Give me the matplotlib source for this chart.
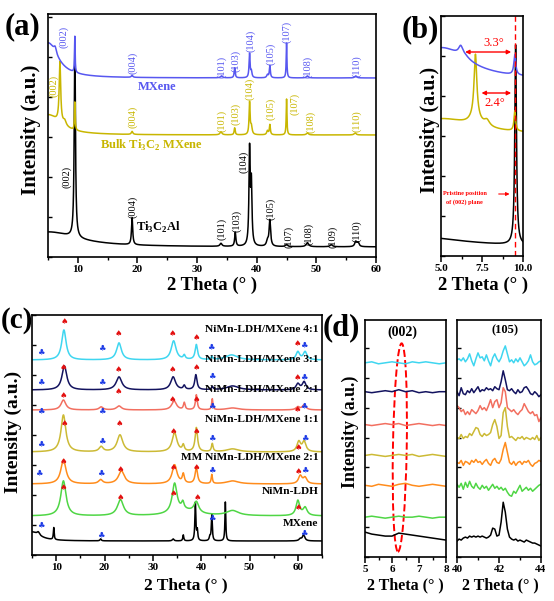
import numpy as np
import matplotlib
matplotlib.use('Agg')
import matplotlib.pyplot as plt
from matplotlib.patches import Ellipse
from matplotlib.ticker import MultipleLocator

plt.rcParams['font.family'] = ['Liberation Serif', 'DejaVu Sans']
plt.rcParams['font.weight'] = 'bold'
plt.rcParams['mathtext.fontset'] = 'custom'
plt.rcParams['mathtext.rm'] = 'Liberation Serif:bold'
plt.rcParams['mathtext.bf'] = 'Liberation Serif:bold'
plt.rcParams['axes.linewidth'] = 1.2

# ---------------- data: peaks as (2theta, height, half width), heights in a.u.
# (a) wide scan
a_mx_base = 179
a_mx_peaks = [(5, 35, 2), (6.2, 6, 0.25), (9.5, 36, 0.06), (19.1, 2, 0.15), (34.1, 2, 0.2),
              (36.3, 10, 0.1), (38.8, 24, 0.1), (39.1, 6, 0.12), (41.8, 3, 0.15),
              (42.2, 12, 0.1), (45.0, 35, 0.07), (48.5, 2, 0.2), (56.6, 2, 0.2)]
a_bulk_base = 122
a_bulk_peaks = [(5, 20, 2.5), (7.0, 61, 0.15), (7.8, 5, 0.3), (9.5, 28, 0.07), (19.1, 3, 0.15),
                (34.0, 3, 0.2), (36.3, 7, 0.1), (38.8, 32, 0.1), (39.1, 8, 0.15),
                (41.8, 4, 0.15), (42.2, 10, 0.1), (45.0, 36, 0.07), (48.5, 2, 0.2), (56.5, 2, 0.2)]
a_max_base = 10
a_max_peaks = [(5, 15, 6), (9.5, 198, 0.12), (19.1, 27, 0.12), (34.0, 3, 0.2), (36.4, 14, 0.12),
               (38.8, 95, 0.12), (39.1, 60, 0.12), (41.8, 5, 0.2), (42.2, 26, 0.15),
               (45.0, 2, 0.2), (48.5, 4, 0.25), (52.5, 2, 0.25), (56.6, 5, 0.2), (57.0, 4, 0.2)]

# hkl labels (x, y of label foot, text)
a_mx_hkl = [(7.7, 209, '(002)'), (19.2, 183, '(004)'), (34.2, 179, '(101)'), (36.4, 185, '(103)'),
            (39.0, 205, '(104)'), (42.4, 192, '(105)'), (45.1, 214, '(107)'), (48.5, 179, '(108)'),
            (56.7, 180, '(110)')]
a_bulk_hkl = [(6.0, 160, '(002)'), (19.2, 129, '(004)'), (34.2, 125, '(101)'), (36.5, 132, '(103)'),
              (38.9, 157, '(104)'), (42.4, 137, '(105)'), (46.4, 142, '(107)'), (49.0, 124, '(108)'),
              (56.7, 125, '(110)')]
a_max_hkl = [(8.2, 69, '(002)'), (19.2, 39, '(004)'), (34.2, 17, '(101)'), (36.6, 25, '(103)'),
             (37.8, 84, '(104)'), (42.4, 37, '(105)'), (45.3, 9, '(107)'), (48.7, 12, '(108)'),
             (52.8, 9, '(109)'), (56.7, 15, '(110)')]

# (b) low angle zoom
b_mx_base = 176
b_mx_peaks = [(5, 32, 2), (6.2, 8, 0.15), (6.4, 4, 0.4), (9.5, 20, 0.07)]
b_bulk_base = 121
b_bulk_peaks = [(5, 16, 2.5), (7.1, 63, 0.1), (7.1, 8, 0.4), (7.8, 6, 0.2), (9.5, 20, 0.06)]
b_max_base = 8
b_max_peaks = [(3, 12, 4), (9.55, 200, 0.06)]

# (c) composites, bottom to top
c_names = ['MXene', 'NiMn-LDH', 'MM NiMn-LDH/MXene 2:1', 'NiMn-LDH/MXene 1:1',
           'NiMn-LDH/MXene 2:1', 'NiMn-LDH/MXene 3:1', 'NiMn-LDH/MXene 4:1']
c_colors = ['black', '#4fd645', '#ff8c1c', '#ccba35', '#f26f60', '#13135f', '#3fd6f0']
c_bases = [14, 39, 71, 103, 145, 165, 195]
c_peaks = [
    [(5, 9, 2), (6.3, 3, 0.3), (9.5, 12, 0.1), (19.2, 2, 0.15), (34.2, 2, 0.2), (36.3, 6, 0.12),
     (38.8, 38, 0.12), (39.2, 10, 0.12), (41.8, 4, 0.15), (42.2, 26, 0.12), (45.0, 39, 0.1),
     (60.5, 2, 0.3), (61.2, 6, 0.3)],
    [(11.5, 35, 0.65), (23.3, 16, 0.75), (34.5, 29, 0.6), (36.2, 7, 0.3), (36.5, 5, 3),
     (39.0, 11, 0.6), (46.5, 5, 1.5), (60.0, 15, 0.45), (61.5, 8, 0.5)],
    [(11.5, 24, 0.65), (19.2, 4, 0.5), (23.5, 13, 0.75), (34.5, 19, 0.6), (36.3, 9, 0.25),
     (39.0, 16, 0.3), (42.2, 9, 0.15), (46.5, 3, 1.5), (60.5, 8, 0.45), (61.5, 6, 0.45)],
    [(11.5, 37, 0.6), (19.3, 5, 0.5), (23.2, 17, 0.7), (34.5, 19, 0.6), (36.3, 6, 0.25),
     (39.0, 24, 0.3), (42.3, 8, 0.2), (46.5, 3, 1.5), (60.2, 10, 0.45), (61.3, 10, 0.45)],
    [(11.5, 10, 0.6), (19.3, 3, 0.5), (23.0, 4, 0.6), (34.4, 9, 0.6), (36.5, 7, 0.2),
     (39.0, 15, 0.22), (42.3, 11, 0.15), (46.5, 2, 1.5), (60.0, 3, 0.45), (61.3, 5, 0.45)],
    [(11.7, 24, 0.6), (23.0, 13, 0.7), (34.2, 13, 0.6), (36.5, 4, 0.25), (38.9, 15, 0.28),
     (42.3, 3, 0.2), (46.5, 4, 1.5), (60.0, 6, 0.45), (61.3, 8, 0.45)],
    [(11.6, 30, 0.55), (23.0, 17, 0.6), (34.3, 19, 0.6), (36.5, 4, 0.25), (39.0, 15, 0.3),
     (42.2, 3, 0.2), (46.3, 5, 1.5), (60.0, 8, 0.45), (61.5, 8, 0.45)],
]
c_label_y = [32, 64, 97, 135, 165, 195, 225]
# phase markers: spade = NiMn-LDH, club = MXene
c_spades = [
    [],
    [(11.4, 68), (23.3, 57), (34.3, 61), (39.2, 57), (60.1, 48)],
    [(11.4, 94), (23.3, 85), (34.3, 88), (39.1, 87), (60.1, 83)],
    [(11.7, 131), (23.0, 131), (34.3, 124), (39.1, 124), (60.2, 107)],
    [(11.5, 160), (22.9, 163), (34.1, 156), (39.1, 156), (60.0, 145)],
    [(11.5, 188), (22.9, 186), (34.1, 186), (39.1, 187), (60.0, 177)],
    [(11.7, 233), (22.9, 221), (34.1, 221), (39.1, 217), (60.0, 211)],
]
c_clubs = [
    [(6.8, 30), (19.3, 20), (42.2, 37), (61.2, 22)],
    [],
    [(6.5, 82), (19.3, 82), (42.2, 85), (61.5, 85)],
    [(6.9, 111), (19.4, 114), (42.3, 117), (61.5, 117)],
    [(6.9, 144), (19.4, 144), (42.3, 149), (61.3, 149)],
    [(6.9, 173), (19.4, 173), (42.2, 179), (61.3, 178)],
    [(6.9, 203), (19.4, 207), (42.0, 208), (61.3, 210)],
]

# (d) zoomed windows, same sample order as (c)
d1_x = [5.0, 5.25, 5.5, 5.75, 6.0, 6.25, 6.5, 6.75, 7.0, 7.25, 7.5, 7.75, 8.0]
d1_y = [
    [25, 23, 22, 21, 21, 24, 23, 22, 21, 20, 19, 18, 17],
    [40, 41, 40, 39, 40, 41, 40, 40, 41, 40, 39, 40, 40],
    [72, 71, 73, 72, 71, 73, 74, 72, 71, 72, 73, 72, 71],
    [102, 103, 102, 101, 102, 103, 102, 103, 101, 102, 103, 102, 101],
    [133, 132, 133, 134, 133, 134, 132, 133, 134, 133, 132, 133, 132],
    [166, 165, 166, 167, 166, 168, 166, 167, 165, 166, 165, 166, 166],
    [195, 196, 194, 195, 196, 195, 194, 196, 195, 196, 195, 194, 195],
]
d2_x = [40.0, 40.1, 40.2, 40.3, 40.4, 40.5, 40.6, 40.7, 40.8, 40.9, 41.0, 41.1, 41.2, 41.3,
        41.4, 41.5, 41.6, 41.7, 41.8, 41.9, 42.0, 42.1, 42.2, 42.3, 42.4, 42.5, 42.6, 42.7,
        42.8, 42.9, 43.0, 43.1, 43.2, 43.3, 43.4, 43.5, 43.6, 43.7, 43.8, 43.9, 44.0]
d2_y = [
    [16, 18, 17, 19, 20, 19, 21, 20, 21, 20, 21, 20, 21, 20, 19, 20, 22, 29, 28, 21, 22,
     35, 55, 45, 28, 20, 18, 17, 18, 16, 17, 16, 15, 17, 16, 15, 14, 14, 13, 12, 11],
    [73, 70, 74, 68, 75, 70, 76, 71, 69, 74, 70, 68, 72, 69, 71, 67, 70, 73, 69, 71, 68,
     70, 67, 69, 65, 62, 61, 66, 64, 68, 72, 66, 68, 70, 67, 69, 66, 68, 70, 72, 73],
    [95, 94, 97, 92, 96, 95, 93, 97, 95, 98, 95, 96, 93, 96, 98, 94, 92, 97, 99, 95, 94,
     98, 108, 115, 105, 95, 93, 96, 92, 95, 96, 93, 96, 95, 97, 93, 91, 94, 95, 97, 96],
    [120, 119, 123, 119, 121, 120, 124, 122, 126, 130, 129, 123, 121, 124, 122, 123, 125,
     133, 138, 131, 119, 122, 145, 150, 131, 120, 121, 119, 117, 120, 119, 121, 118, 120,
     119, 118, 120, 118, 122, 117, 120],
    [152, 150, 146, 148, 143, 146, 143, 148, 146, 144, 147, 152, 148, 150, 147, 152, 158,
     150, 156, 158, 150, 155, 170, 166, 150, 148, 146, 148, 145, 143, 146, 148, 154, 150,
     146, 144, 146, 142, 143, 136, 140],
    [166, 162, 170, 164, 163, 167, 165, 169, 165, 168, 171, 166, 168, 167, 170, 168, 169,
     167, 171, 169, 168, 176, 187, 178, 168, 167, 169, 166, 164, 168, 165, 166, 170, 171,
     168, 164, 163, 166, 164, 161, 163],
    [198, 199, 197, 200, 196, 199, 204, 197, 192, 199, 205, 200, 201, 197, 203, 197, 192,
     200, 204, 199, 196, 200, 207, 212, 204, 196, 198, 195, 199, 196, 200, 196, 192, 194,
     197, 203, 196, 193, 194, 196, 197],
]

mx_blue = '#5757f0'
bulk_olive = '#c8b600'


def xrd(x, base, peaks):
    y = np.full_like(x, base, dtype=float)
    for p, h, w in peaks:
        y += h / (1 + ((x - p) / w) ** 2)
    return y


def box(px_l, px_t, px_r, px_b):
    return [px_l / 554, 1 - px_b / 601, (px_r - px_l) / 554, (px_b - px_t) / 601]


def style(ax, ystep):
    ax.tick_params(axis='x', which='major', direction='out', length=4, width=1.1,
                   labelsize=8, pad=1.5)
    ax.tick_params(axis='x', which='minor', direction='out', length=2.5, width=1)
    ax.tick_params(axis='y', which='both', direction='in', length=3, width=1, labelleft=False)
    ax.yaxis.set_major_locator(MultipleLocator(ystep))
    for lab in ax.get_xticklabels():
        lab.set_fontweight('bold')


fig = plt.figure(figsize=(5.54, 6.01), dpi=100)
LW = 1.1

# ---------------- (a)
ax = fig.add_axes(box(48, 14, 376, 257))
xa = np.linspace(5, 60, 5000)
ax.plot(xa, xrd(xa, a_max_base, a_max_peaks), color='black', lw=LW)
ax.plot(xa, xrd(xa, a_bulk_base, a_bulk_peaks), color=bulk_olive, lw=LW)
ax.plot(xa, xrd(xa, a_mx_base, a_mx_peaks), color=mx_blue, lw=LW)
for hkl, col in [(a_mx_hkl, mx_blue), (a_bulk_hkl, bulk_olive), (a_max_hkl, 'black')]:
    for x, y, t in hkl:
        ax.text(x, y, t, rotation=90, ha='center', va='bottom', color=col,
                fontsize=7.5, fontweight='normal')
ax.text(23.3, 170, 'MXene', color=mx_blue, fontsize=9, ha='center', va='center')
ax.text(13.7, 112, r'Bulk Ti$_\mathregular{3}$C$_\mathregular{2}$ MXene', color=bulk_olive,
        fontsize=9, ha='left', va='center')
ax.text(19.8, 30, r'Ti$_\mathregular{3}$C$_\mathregular{2}$Al', color='black',
        fontsize=9, ha='left', va='center')
ax.set_xlim(5, 60)
ax.set_ylim(0, 243)
ax.xaxis.set_major_locator(MultipleLocator(10))
ax.xaxis.set_minor_locator(MultipleLocator(5))
style(ax, 40)

# ---------------- (b)
ax = fig.add_axes(box(441, 16, 523, 256))
xb = np.linspace(5, 10, 3000)
ax.plot(xb, xrd(xb, b_max_base, b_max_peaks), color='black', lw=LW)
ax.plot(xb, xrd(xb, b_bulk_base, b_bulk_peaks), color=bulk_olive, lw=LW)
ax.plot(xb, xrd(xb, b_mx_base, b_mx_peaks), color=mx_blue, lw=LW)
ax.axvline(9.5, color='red', ls='--', lw=1.0, dashes=(4, 2.5))
ax.annotate('', xy=(6.3, 204), xytext=(9.45, 204),
            arrowprops=dict(arrowstyle='<|-|>', color='red', lw=1.0, mutation_scale=6))
ax.text(8.2, 213, '3.3°', color='red', fontsize=9, ha='center', va='center', fontweight='normal')
ax.annotate('', xy=(7.3, 163), xytext=(9.45, 163),
            arrowprops=dict(arrowstyle='<|-|>', color='red', lw=1.0, mutation_scale=6))
ax.text(8.3, 153, '2.4°', color='red', fontsize=9, ha='center', va='center', fontweight='normal')
ax.text(6.45, 58, 'Pristine position\nof (002) plane', color='red', fontsize=4.5,
        ha='center', va='center', linespacing=1.6)
ax.annotate('', xy=(9.35, 62), xytext=(8.35, 62),
            arrowprops=dict(arrowstyle='-|>', color='red', lw=0.8, mutation_scale=5))
ax.set_xlim(5, 10)
ax.set_ylim(0, 240)
ax.set_xticks([5, 7.5, 10])
ax.set_xticklabels(['5.0', '7.5', '10.0'])
ax.xaxis.set_minor_locator(MultipleLocator(1.25))
style(ax, 40)

# ---------------- (c)
ax = fig.add_axes(box(32, 315, 322, 555))
xc = np.linspace(5, 65, 5000)
for i in range(len(c_names)):
    ax.plot(xc, xrd(xc, c_bases[i], c_peaks[i]), color=c_colors[i], lw=LW)
    ax.text(64.3, c_label_y[i], c_names[i], ha='right', va='center', fontsize=8.2)
    for x, y in c_spades[i]:
        ax.text(x, y, '♠', color='#e31010', fontsize=6, ha='center', va='center',
                family=['DejaVu Sans'])
    for x, y in c_clubs[i]:
        ax.text(x, y, '♣', color='#1d3be6', fontsize=6, ha='center', va='center',
                family=['DejaVu Sans'])
ax.set_xlim(5, 65)
ax.set_ylim(0, 240)
ax.xaxis.set_major_locator(MultipleLocator(10))
ax.xaxis.set_minor_locator(MultipleLocator(5))
style(ax, 30)

# ---------------- (d)
ax1 = fig.add_axes(box(365, 320, 446, 557))
ax2 = fig.add_axes(box(457, 320, 541, 557))
for i in range(len(c_names)):
    ax1.plot(d1_x, d1_y[i], color=c_colors[i], lw=LW)
    ax2.plot(d2_x, d2_y[i], color=c_colors[i], lw=LW)
ax1.add_patch(Ellipse((0.43, 0.462), 0.17, 0.88, angle=-3, transform=ax1.transAxes,
                      fill=False, edgecolor='red', ls='--', lw=1.4))
ax1.text(6.4, 226, '(002)', ha='center', va='center', fontsize=10)
ax2.text(42.3, 228, '(105)', ha='center', va='center', fontsize=9)
ax1.set_xlim(5, 8)
ax1.set_ylim(0, 238)
ax1.set_xticks([5, 6, 7, 8])
ax1.xaxis.set_minor_locator(MultipleLocator(0.5))
ax2.set_xlim(40, 44)
ax2.set_ylim(0, 238)
ax2.set_xticks([40, 42, 44])
ax2.xaxis.set_minor_locator(MultipleLocator(1))
style(ax1, 30)
style(ax2, 30)

# ---------------- shared labels
def fx(px):
    return px / 554


def fy(py):
    return 1 - py / 601


fig.text(fx(31), fy(130), 'Intensity (a.u.)', rotation=90, ha='center', va='center', fontsize=15)
fig.text(fx(430), fy(130), 'Intensity (a.u.)', rotation=90, ha='center', va='center', fontsize=14.5)
fig.text(fx(13), fy(432), 'Intensity (a.u.)', rotation=90, ha='center', va='center', fontsize=14)
fig.text(fx(350), fy(432), 'Intensity (a.u.)', rotation=90, ha='center', va='center', fontsize=13)
fig.text(fx(212), fy(285), '2 Theta (° )', ha='center', va='center', fontsize=13.5)
fig.text(fx(483), fy(285), '2 Theta (° )', ha='center', va='center', fontsize=13.5)
fig.text(fx(186), fy(585), '2 Theta (° )', ha='center', va='center', fontsize=12.5)
fig.text(fx(405), fy(585), '2 Theta (° )', ha='center', va='center', fontsize=11.5)
fig.text(fx(500), fy(585), '2 Theta (° )', ha='center', va='center', fontsize=11.5)

fig.text(fx(23), fy(27), '(a)', ha='center', va='center', fontsize=22)
fig.text(fx(420), fy(30), '(b)', ha='center', va='center', fontsize=22)
fig.text(fx(17), fy(321), '(c)', ha='center', va='center', fontsize=21)
fig.text(fx(341), fy(328), '(d)', ha='center', va='center', fontsize=22)

fig.savefig('out.png', dpi=100)
